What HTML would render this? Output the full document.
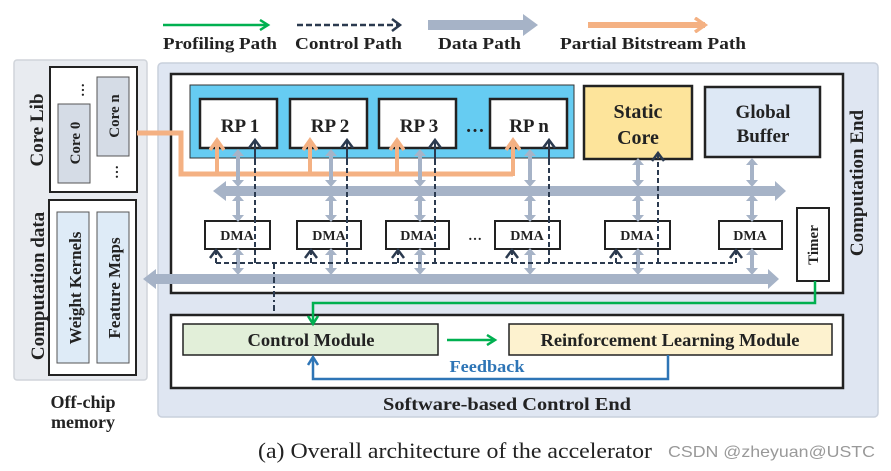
<!DOCTYPE html>
<html><head><meta charset="utf-8"><style>
html,body{margin:0;padding:0;background:#fff;}
svg{display:block;}
text{font-family:"Liberation Serif",serif;font-weight:bold;fill:#222;}
</style></head><body>
<svg width="891" height="471" viewBox="0 0 891 471" xmlns="http://www.w3.org/2000/svg">
<defs>
<marker id="ag" markerWidth="12" markerHeight="12" refX="9" refY="6" orient="auto" markerUnits="userSpaceOnUse"><path d="M1,1 L9,6 L1,11" fill="none" stroke="#00b050" stroke-width="2.5"/></marker>
<marker id="ad" markerWidth="14" markerHeight="14" refX="10" refY="7" orient="auto" markerUnits="userSpaceOnUse"><path d="M2,1 L10,7 L2,13" fill="none" stroke="#2b3a4f" stroke-width="2.5"/></marker>
<marker id="ao" markerWidth="16" markerHeight="16" refX="12" refY="8" orient="auto" markerUnits="userSpaceOnUse"><path d="M2,1 L12,8 L2,15" fill="none" stroke="#f4b183" stroke-width="3.5"/></marker>
<marker id="ab" markerWidth="12" markerHeight="12" refX="9" refY="6" orient="auto" markerUnits="userSpaceOnUse"><path d="M1,1 L9,6 L1,11" fill="none" stroke="#2e75b6" stroke-width="2.5"/></marker>
</defs>
<!-- legend -->
<line x1="163" y1="25" x2="268" y2="25" stroke="#00b050" stroke-width="2.5" marker-end="url(#ag)"/>
<line x1="297" y1="25" x2="400" y2="25" stroke="#2b3a4f" stroke-width="2.5" stroke-dasharray="6,3" marker-end="url(#ad)"/>
<polygon points="428,20 523,20 523,14 538,25 523,36 523,30 428,30" fill="#a6b3c7"/>
<line x1="588" y1="25" x2="705" y2="25" stroke="#f4b183" stroke-width="6" marker-end="url(#ao)"/>
<text x="163" y="49" font-size="17" textLength="114" lengthAdjust="spacingAndGlyphs">Profiling Path</text>
<text x="295" y="49" font-size="17" textLength="107" lengthAdjust="spacingAndGlyphs">Control Path</text>
<text x="438" y="49" font-size="17" textLength="83" lengthAdjust="spacingAndGlyphs">Data Path</text>
<text x="560" y="49" font-size="17" textLength="186" lengthAdjust="spacingAndGlyphs">Partial Bitstream Path</text>

<!-- off-chip panel -->
<rect x="14" y="60" width="133" height="320" rx="3" fill="#e8ebf0" stroke="#d0d4da" stroke-width="1.5"/>
<rect x="50" y="67" width="87" height="125" fill="#fff" stroke="#222" stroke-width="2"/>
<rect x="58" y="104" width="32" height="79" fill="#d5dce6" stroke="#555" stroke-width="1"/>
<rect x="97" y="77" width="32" height="79" fill="#d5dce6" stroke="#555" stroke-width="1"/>
<text transform="translate(80,143) rotate(-90)" font-size="15" text-anchor="middle">Core 0</text>
<text transform="translate(119,116) rotate(-90)" font-size="15" text-anchor="middle">Core n</text>
<text transform="translate(84,90) rotate(-90)" font-size="14" text-anchor="middle">…</text>
<text transform="translate(118,172) rotate(-90)" font-size="14" text-anchor="middle">…</text>
<text transform="translate(43,130) rotate(-90)" font-size="19" text-anchor="middle">Core Lib</text>
<rect x="49" y="200" width="87" height="175" fill="#fff" stroke="#222" stroke-width="2"/>
<rect x="57" y="212" width="32" height="151" fill="#deebf7" stroke="#555" stroke-width="1"/>
<rect x="97" y="212" width="32" height="151" fill="#deebf7" stroke="#555" stroke-width="1"/>
<text transform="translate(81,288) rotate(-90)" font-size="17" text-anchor="middle">Weight Kernels</text>
<text transform="translate(120,288) rotate(-90)" font-size="17" text-anchor="middle">Feature Maps</text>
<text transform="translate(44,286) rotate(-90)" font-size="19" text-anchor="middle">Computation data</text>
<text x="83" y="408" font-size="18" text-anchor="middle">Off-chip</text>
<text x="83" y="428" font-size="18" text-anchor="middle">memory</text>

<!-- right panel -->
<rect x="158" y="63" width="720" height="354" rx="4" fill="#dfe6f2" stroke="#c9d0dc" stroke-width="1.5"/>
<rect x="171" y="74" width="672" height="219" fill="#fff" stroke="#222" stroke-width="2.5"/>
<text transform="translate(863,183) rotate(-90)" font-size="19" text-anchor="middle">Computation End</text>
<rect x="190" y="85" width="384" height="73" fill="#66ccf2" stroke="#333" stroke-width="1"/>
<g fill="#fff" stroke="#222" stroke-width="2.5">
<rect x="200" y="99" width="77" height="49"/>
<rect x="290" y="99" width="77" height="49"/>
<rect x="379" y="99" width="77" height="49"/>
<rect x="490" y="99" width="77" height="49"/>
</g>
<g font-size="19" text-anchor="middle">
<text x="240" y="132">RP 1</text><text x="330" y="132">RP 2</text><text x="419" y="132">RP 3</text><text x="529" y="132">RP n</text>
<text x="475" y="132">…</text>
</g>
<rect x="584" y="86" width="108" height="73" fill="#fde49b" stroke="#222" stroke-width="2.5"/>
<text x="638" y="118" font-size="20" text-anchor="middle">Static</text>
<text x="638" y="144" font-size="20" text-anchor="middle">Core</text>
<rect x="705" y="87" width="115" height="70" fill="#dde8f5" stroke="#222" stroke-width="2.5"/>
<text x="763" y="118" font-size="19" text-anchor="middle">Global</text>
<text x="763" y="142" font-size="19" text-anchor="middle">Buffer</text>

<!-- orange path -->
<polyline points="137,133 181,133 181,174 513,174" fill="none" stroke="#f4b183" stroke-width="5"/>
<g stroke="#f4b183" stroke-width="4" marker-end="url(#ao)">
<line x1="217" y1="174" x2="217" y2="140"/><line x1="310" y1="174" x2="310" y2="140"/>
<line x1="397" y1="174" x2="397" y2="140"/><line x1="513" y1="176" x2="513" y2="140"/>
</g>

<!-- buses -->
<polygon points="226,186 775,186 775,181 786,191 775,201 775,196 226,196 226,201 213,191 226,181" fill="#a6b3c7"/>
<polygon points="156,274 768,274 768,269 779,279 768,289 768,284 156,284 156,289 143,279 156,269" fill="#a6b3c7"/>
<!-- DMA -->
<g fill="#fff" stroke="#222" stroke-width="2">
<rect x="205" y="221" width="65" height="28"/><rect x="297" y="221" width="64" height="28"/>
<rect x="386" y="221" width="63" height="28"/><rect x="495" y="221" width="65" height="28"/>
<rect x="605" y="221" width="65" height="28"/><rect x="719" y="221" width="63" height="28"/>
</g>
<g font-size="14" text-anchor="middle">
<text x="237" y="240">DMA</text><text x="329" y="240">DMA</text><text x="417" y="240">DMA</text>
<text x="527" y="240">DMA</text><text x="637" y="240">DMA</text><text x="750" y="240">DMA</text>
<text x="475" y="240">…</text>
</g>
<rect x="797" y="208" width="32" height="73" fill="#fff" stroke="#222" stroke-width="2"/>
<text transform="translate(818,245) rotate(-90)" font-size="15" text-anchor="middle">Timer</text>

<g stroke="#a6b3c7" stroke-width="4" fill="none">
<path d="M238,154V182M238,199V217M238,253V270M331,154V182M331,199V217M331,253V270M420,154V182M420,199V217M420,253V270M530,154V182M530,199V217M530,253V270M638,163V182M638,199V217M638,253V270M752,163V182M752,199V217M752,253V270"/>
</g>
<g fill="#a6b3c7">
<path d="M232,156l6,-7l6,7zM232,180l6,7l6,-7zM232,201l6,-7l6,7zM232,215l6,7l6,-7zM232,255l6,-7l6,7zM232,268l6,7l6,-7z"/>
<path d="M325,156l6,-7l6,7zM325,180l6,7l6,-7zM325,201l6,-7l6,7zM325,215l6,7l6,-7zM325,255l6,-7l6,7zM325,268l6,7l6,-7z"/>
<path d="M414,156l6,-7l6,7zM414,180l6,7l6,-7zM414,201l6,-7l6,7zM414,215l6,7l6,-7zM414,255l6,-7l6,7zM414,268l6,7l6,-7z"/>
<path d="M524,156l6,-7l6,7zM524,180l6,7l6,-7zM524,201l6,-7l6,7zM524,215l6,7l6,-7zM524,255l6,-7l6,7zM524,268l6,7l6,-7z"/>
<path d="M632,165l6,-7l6,7zM632,180l6,7l6,-7zM632,201l6,-7l6,7zM632,215l6,7l6,-7zM632,255l6,-7l6,7zM632,268l6,7l6,-7z"/>
<path d="M746,165l6,-7l6,7zM746,180l6,7l6,-7zM746,201l6,-7l6,7zM746,215l6,7l6,-7zM746,255l6,-7l6,7zM746,268l6,7l6,-7z"/>
</g>

<!-- control dashed -->
<g stroke="#2b3a4f" stroke-width="2" stroke-dasharray="5,3" fill="none">
<path d="M216,263H736"/>
<path d="M255,263V221M347,263V221M435,263V221M549,263V221M658,263V161"/>
<path d="M255,221V140M347,221V140M435,221V140M549,221V140"/>
<path d="M274,263V325" stroke-dasharray="6,3,2,3"/>
</g>
<g stroke="#2b3a4f" stroke-width="2" stroke-dasharray="5,3" marker-end="url(#ad)">
<line x1="255" y1="160" x2="255" y2="140"/><line x1="347" y1="160" x2="347" y2="140"/>
<line x1="435" y1="160" x2="435" y2="140"/><line x1="549" y1="160" x2="549" y2="140"/>
<line x1="658" y1="175" x2="658" y2="153"/>
<line x1="216" y1="263" x2="216" y2="250"/><line x1="311" y1="263" x2="311" y2="250"/>
<line x1="398" y1="263" x2="398" y2="250"/><line x1="512" y1="263" x2="512" y2="250"/>
<line x1="616" y1="263" x2="616" y2="250"/><line x1="736" y1="263" x2="736" y2="250"/>
</g>

<!-- software end -->
<rect x="171" y="315" width="672" height="73" fill="#fff" stroke="#222" stroke-width="2.5"/>
<rect x="183" y="324" width="255" height="31" fill="#e2efd9" stroke="#222" stroke-width="1.5"/>
<text x="311" y="346" font-size="18" text-anchor="middle" textLength="127" lengthAdjust="spacingAndGlyphs">Control Module</text>
<rect x="509" y="324" width="323" height="31" fill="#fdf2cf" stroke="#222" stroke-width="1.5"/>
<text x="670" y="346" font-size="18" text-anchor="middle" textLength="259" lengthAdjust="spacingAndGlyphs">Reinforcement Learning Module</text>
<line x1="447" y1="340" x2="495" y2="340" stroke="#00b050" stroke-width="2.5" marker-end="url(#ag)"/>
<polyline points="815,281 815,303 313,303 313,324" fill="none" stroke="#00b050" stroke-width="2.5" marker-end="url(#ag)"/>
<polyline points="668,355 668,379 313,379 313,357" fill="none" stroke="#2e75b6" stroke-width="2.5" marker-end="url(#ab)"/>
<text x="487" y="372" font-size="17" text-anchor="middle" style="fill:#2e75b6" textLength="75" lengthAdjust="spacingAndGlyphs">Feedback</text>
<text x="507" y="410" font-size="18" text-anchor="middle" textLength="248" lengthAdjust="spacingAndGlyphs">Software-based Control End</text>

<text x="455" y="458" font-size="22" text-anchor="middle" style="font-weight:normal" textLength="394" lengthAdjust="spacingAndGlyphs">(a) Overall architecture of the accelerator</text>
<text x="668" y="457" font-size="16" style="font-family:'Liberation Sans',sans-serif;font-weight:normal;fill:#999" textLength="207" lengthAdjust="spacingAndGlyphs">CSDN @zheyuan@USTC</text>
</svg>
</body></html>
